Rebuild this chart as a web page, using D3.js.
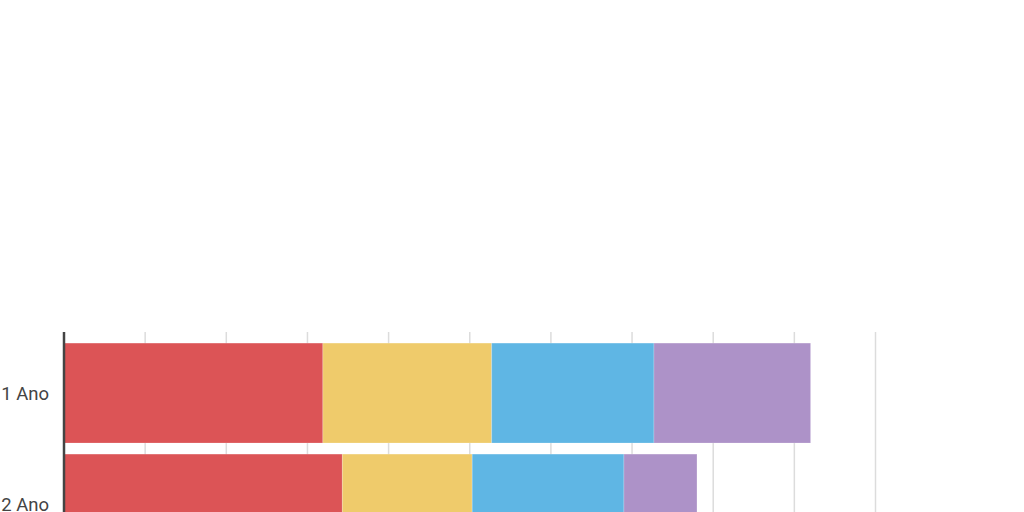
<!DOCTYPE html>
<html>
<head>
<meta charset="utf-8">
<script src="https://cdn.jsdelivr.net/npm/d3@7"></script>
<style>
  body { margin: 0; background: #fff; }
  text { font-family: Roboto, "Noto Sans", sans-serif; }
</style>
</head>
<body>
<script>
// values
var categories = ['1 Ano', '2 Ano'];
var seriesNames = ['s1', 's2', 's3', 's4'];
var s1 = [31.9, 34.3];
var s2 = [20.8, 16.0];
var s3 = [20.0, 18.7];
var s4 = [19.3, 9.0];
var xTicks = [0, 10, 20, 30, 40, 50, 60, 70, 80, 90, 100];
var colors = ['#dc5456', '#efcb6b', '#5fb6e4', '#ad92c8'];

var svgWidth = 1024;
var svgHeight = 512;

var svg = d3.select('body').append('svg')
  .attr('width', svgWidth)
  .attr('height', svgHeight);

var rows = categories.map(function(c, i) {
  return {cat: c, s1: s1[i], s2: s2[i], s3: s3[i], s4: s4[i]};
});

var x = d3.scaleLinear().domain([0, 100]).range([64, 875.5]);
var y = d3.scaleBand().domain(categories)
  .range([332, 332 + 111 * 2.1])
  .paddingInner(0.1)
  .paddingOuter(0.1);

// gridlines
svg.append('g')
  .selectAll('line')
  .data(xTicks.slice(1))
  .enter()
  .append('line')
  .attr('x1', function(d) { return x(d); })
  .attr('x2', function(d) { return x(d); })
  .attr('y1', 332)
  .attr('y2', svgHeight)
  .attr('stroke', '#dcdcdc')
  .attr('stroke-width', 1.5);

var stack = d3.stack().keys(seriesNames)(rows);

svg.append('g')
  .selectAll('g')
  .data(stack)
  .enter()
  .append('g')
  .attr('fill', function(d, i) { return colors[i]; })
  .selectAll('rect')
  .data(function(d) { return d; })
  .enter()
  .append('rect')
  .attr('x', function(d) { return x(d[0]); })
  .attr('width', function(d) { return x(d[1]) - x(d[0]); })
  .attr('y', function(d) { return y(d.data.cat); })
  .attr('height', y.bandwidth())
  .attr('stroke', 'rgba(255,255,255,0.2)')
  .attr('stroke-width', 1);

// zero axis
svg.append('line')
  .attr('x1', x(0))
  .attr('x2', x(0))
  .attr('y1', 332)
  .attr('y2', svgHeight)
  .attr('stroke', '#444')
  .attr('stroke-width', 2.5);

// category labels
svg.append('g')
  .selectAll('text')
  .data(categories)
  .enter()
  .append('text')
  .attr('x', 49)
  .attr('y', function(d) { return y(d) + y.bandwidth() / 2; })
  .attr('dy', '0.35em')
  .attr('text-anchor', 'end')
  .attr('fill', '#444')
  .style('font-size', '18.5px')
  .text(function(d) { return d; });
</script>
</body>
</html>
